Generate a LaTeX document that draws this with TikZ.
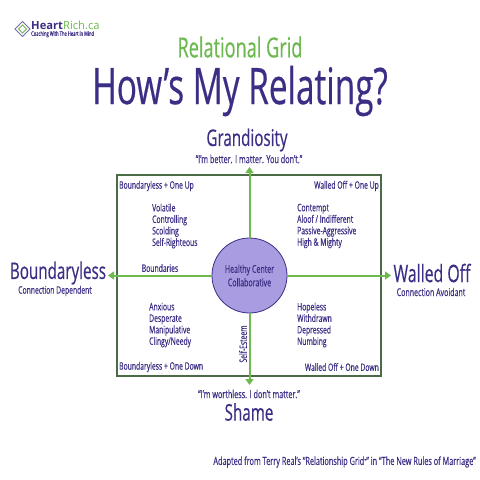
\documentclass[tikz,border=0pt]{standalone}
\usepackage{fontspec}
\setmainfont[FakeStretch=0.66,FakeBold=0.35]{Open Sans}
\newfontfamily\logofont{Open Sans}
\definecolor{ink}{HTML}{3A2E85}
\definecolor{lime}{HTML}{6DB94F}
\definecolor{frame}{HTML}{4B6B47}
\definecolor{disc}{HTML}{AA9CE0}
\usetikzlibrary{arrows.meta}
\newcommand{\fs}[2][0]{\fontsize{#2}{11.5}\selectfont}
\tikzset{
 x=1pt,y=-1pt,
 txt/.style={text=ink,inner sep=0pt,font=\fs{10.3}},
 lft/.style={txt,anchor=west,align=left},
 big/.style={text=ink,inner sep=0pt,font=\fs{23}},
 sub/.style={text=ink,inner sep=0pt,font=\fs{10.3}},
 axis/.style={draw=lime,line width=2pt,-{Triangle[length=6pt,width=8pt]}},
}
\begin{document}
\begin{tikzpicture}
\useasboundingbox (0,0) rectangle (480,480);
\fill[white] (0,0) rectangle (480,480);
% logo
\draw[ink!70,line width=0.9pt] (22.5,21.5) -- (30,29) -- (22.5,36.5) -- (15,29) -- cycle;
\draw[lime,line width=0.8pt] (22.5,25) -- (26.5,29) -- (22.5,33) -- (18.5,29) -- cycle;
\node[anchor=west,inner sep=0pt,text=ink,font=\logofont\bfseries\fs{11.2}] (lg1) at (31,25.5) {Heart\textcolor{lime}{\mdseries Rich.ca}};
\node[anchor=west,inner sep=0pt,text=ink,font=\fs{6.2}] (lg2) at (31,34.2) {Coaching With The Heart in Mind};
% titles
\node[inner sep=0pt,text=lime,font=\fs{27.5}] (t1) at (240,47) {Relational Grid};
\node[inner sep=0pt,text=ink,font=\fs{50.5}] (t2) at (240,91) {How’s My Relating?};
% grid
\draw[frame,line width=1.5pt] (117,175) rectangle (381,376);
\node[circle,draw=ink,line width=0.8pt,fill=disc,minimum size=75pt,inner sep=0pt] (c) at (249.5,275.5) {};
\coordinate (n) at (249.5,167);
\coordinate (s) at (249.5,385);
\coordinate (w) at (108,275.5);
\coordinate (e) at (391,275.5);
\draw[axis] (c) -- (n);
\draw[axis] (c) -- (s);
\draw[axis] (c) -- (w);
\draw[axis] (c) -- (e);
\node[txt,align=center,font=\fs{10.7}] (cl) at (249.5,275.5) {Healthy Center\\[2pt]Collaborative};
% poles
\node[big] (g) at (247,140) {Grandiosity};
\node[sub,font=\fs{11}] (g2) at (249,159) {“I’m better. I matter. You don’t.”};
\node[big] (b) at (58,273) {Boundaryless};
\node[sub] (b2) at (55,291) {Connection Dependent};
\node[big,font=\fs{24}] (wo) at (432,273) {Walled Off};
\node[sub,font=\fs{10.7}] (w2) at (431,292) {Connection Avoidant};
\node[big] (sh) at (249,412) {Shame};
\node[sub,font=\fs{11}] (s2) at (249,394) {“I’m worthless. I don’t matter.”};
% corners
\node[txt,anchor=west] (q1) at (119,186) {Boundaryless + One Up};
\node[txt,anchor=east] (q2) at (379,186) {Walled Off + One Up};
\node[txt,anchor=west] (q3) at (119,367) {Boundaryless + One Down};
\node[txt,anchor=east] (q4) at (379,367) {Walled Off + One Down};
% lists
\newcommand{\lst}[4]{#1\\#2\\#3\\#4}
\node[lft] (l1) at (152,226) {\lst{Volatile}{Controlling}{Scolding}{Self-Righteous}};
\node[lft] (l2) at (297,226) {\lst{Contempt}{Aloof / Indifferent}{Passive-Aggressive}{High \& Mighty}};
\node[lft] (l3) at (149,325) {\lst{Anxious}{Desperate}{Manipulative}{Clingy/Needy}};
\node[lft] (l4) at (297,325) {\lst{Hopeless}{Withdrawn}{Depressed}{Numbing}};
\node[txt] (bd) at (160,268) {Boundaries};
\node[txt,rotate=90] (se) at (243,344) {Self-Esteem};
\node[txt,anchor=east,font=\fs{11.1}] (ad) at (476,462) {Adapted from Terry Real’s “Relationship Grid\raisebox{3pt}{\fs{4}™}” in “The New Rules of Marriage”};
\end{tikzpicture}
\end{document}
